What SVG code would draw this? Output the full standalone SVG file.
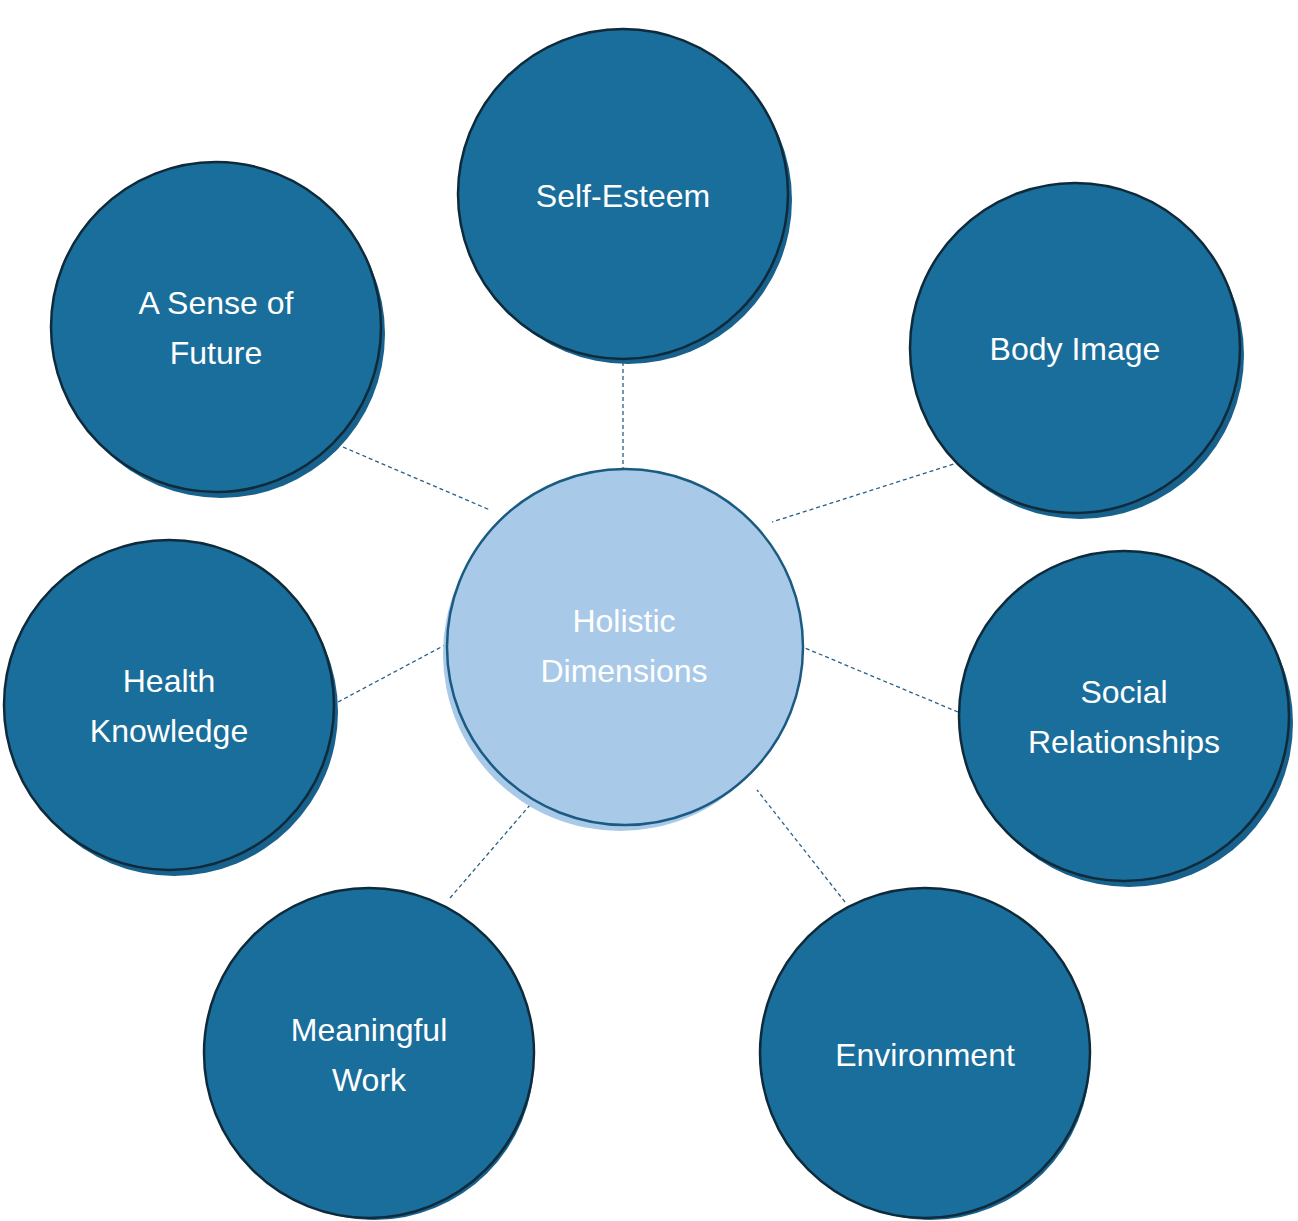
<svg xmlns="http://www.w3.org/2000/svg" width="1298" height="1221" viewBox="0 0 1298 1221">
<style>
.sh{fill:#17618c}
.n{fill:#1a6e9b;stroke:#0f2a3a;stroke-width:2.5}
.c{fill:#a9c9e8;stroke:#1b5b82;stroke-width:2.5}
.t{font-family:"Liberation Sans",Arial,sans-serif;font-size:32px;fill:#ffffff;text-anchor:middle}
.e{stroke:#2a5f86;stroke-width:1.3;stroke-dasharray:4 3;fill:none}
</style>
<rect width="1298" height="1221" fill="#ffffff"/>
<g id="connectors">
<line class="e" x1="623" y1="362" x2="623" y2="468"/>
<line class="e" x1="343" y1="447" x2="490" y2="510"/>
<line class="e" x1="960" y1="462" x2="772" y2="522"/>
<line class="e" x1="338" y1="702" x2="445" y2="645"/>
<line class="e" x1="958" y1="712" x2="805" y2="648"/>
<line class="e" x1="450" y1="898" x2="530" y2="805"/>
<line class="e" x1="845" y1="902" x2="757" y2="790"/>
</g>
<g id="center">
<circle cx="620" cy="654" r="177" fill="#a9c9e8"/>
<circle class="c" cx="625" cy="647" r="178"/>
<text class="t" x="624" y="632" fill="#ffffff">Holistic</text>
<text class="t" x="624" y="682">Dimensions</text>
</g>
<g id="self-esteem">
<circle class="sh" cx="628" cy="200" r="164"/>
<circle class="n" cx="623" cy="194" r="165"/>
<text class="t" x="623" y="207">Self-Esteem</text>
</g>
<g id="sense-of-future">
<circle class="sh" cx="221" cy="334" r="164"/>
<circle class="n" cx="216" cy="327" r="165"/>
<text class="t" x="216" y="314">A Sense of</text>
<text class="t" x="216" y="364">Future</text>
</g>
<g id="body-image">
<circle class="sh" cx="1080" cy="355" r="164"/>
<circle class="n" cx="1075" cy="348" r="165"/>
<text class="t" x="1075" y="360">Body Image</text>
</g>
<g id="health-knowledge">
<circle class="sh" cx="174" cy="712" r="164"/>
<circle class="n" cx="169" cy="705" r="165"/>
<text class="t" x="169" y="692">Health</text>
<text class="t" x="169" y="742">Knowledge</text>
</g>
<g id="social-relationships">
<circle class="sh" cx="1129" cy="723" r="164"/>
<circle class="n" cx="1124" cy="716" r="165"/>
<text class="t" x="1124" y="703">Social</text>
<text class="t" x="1124" y="753">Relationships</text>
</g>
<g id="meaningful-work">
<circle class="sh" cx="374" cy="1060" r="160"/>
<circle class="n" cx="369" cy="1053" r="165"/>
<text class="t" x="369" y="1041">Meaningful</text>
<text class="t" x="369" y="1091">Work</text>
</g>
<g id="environment">
<circle class="sh" cx="930" cy="1060" r="160"/>
<circle class="n" cx="925" cy="1053" r="165"/>
<text class="t" x="925" y="1066">Environment</text>
</g>
</svg>
